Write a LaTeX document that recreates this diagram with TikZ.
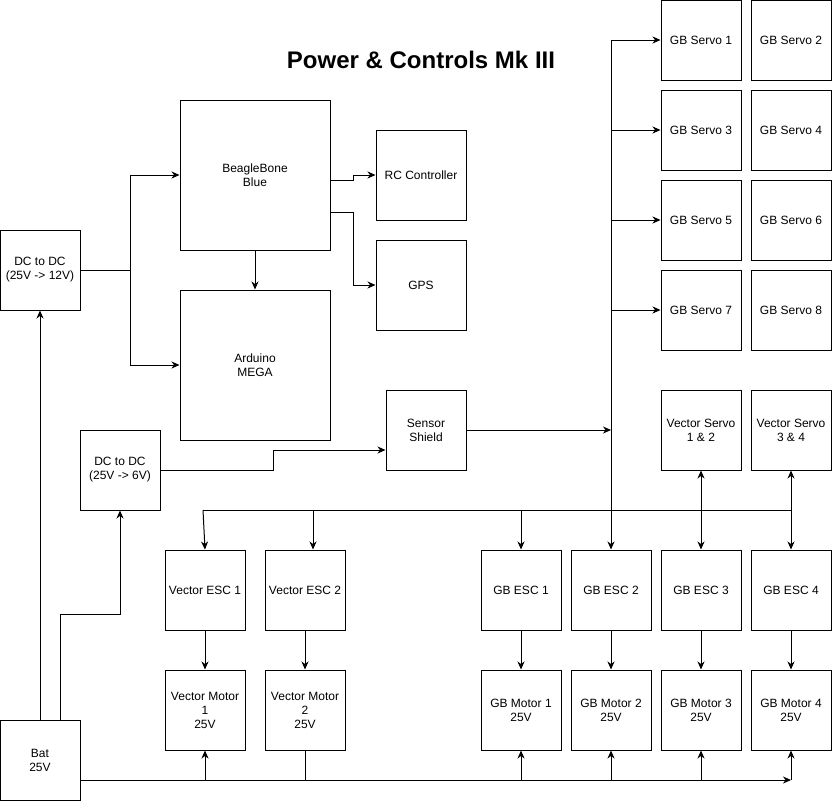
\documentclass[tikz,border=0pt]{standalone}
\usepackage{fontspec}
\setmainfont{Liberation Sans}
\usetikzlibrary{arrows.meta,calc}
\begin{document}
\begin{tikzpicture}[x=1pt,y=-1pt,line width=1pt,
  box/.style={draw,rectangle,inner sep=0pt,align=center,font=\fontsize{12}{14}\selectfont,minimum width=80pt,minimum height=80pt},
  bigbox/.style={box,minimum width=150pt,minimum height=150pt},
  midbox/.style={box,minimum width=90pt,minimum height=90pt},
  arr/.style={-{Stealth[length=8pt,width=7pt,inset=2.5pt]}},
  arrb/.style={{Stealth[length=8pt,width=7pt,inset=2.5pt]}-{Stealth[length=8pt,width=7pt,inset=2.5pt]}}]
\useasboundingbox (0,0) rectangle (832,801);
\node[font=\fontsize{24}{28}\selectfont\bfseries] (title) at (421,60) {Power \& Controls Mk III};
% boxes
\node[bigbox] (bb) at (255,175) {BeagleBone\\Blue};
\node[bigbox] (ard) at (255,365) {Arduino\\MEGA};
\node[midbox] (rc) at (421,175) {RC Controller};
\node[midbox] (gps) at (421,285) {GPS};
\node[box] (dc12) at (40,270) {DC to DC\\(25V -> 12V)};
\node[box] (dc6) at (120,470) {DC to DC\\(25V -> 6V)};
\node[box] (ss) at (426,430) {Sensor\\Shield};
\node[box] (s1) at (701,40) {GB Servo 1};
\node[box] (s2) at (791,40) {GB Servo 2};
\node[box] (s3) at (701,130) {GB Servo 3};
\node[box] (s4) at (791,130) {GB Servo 4};
\node[box] (s5) at (701,220) {GB Servo 5};
\node[box] (s6) at (791,220) {GB Servo 6};
\node[box] (s7) at (701,310) {GB Servo 7};
\node[box] (s8) at (791,310) {GB Servo 8};
\node[box] (vs12) at (701,430) {Vector Servo\\1 \& 2};
\node[box] (vs34) at (791,430) {Vector Servo\\3 \& 4};
\node[box] (vesc1) at (205,590) {Vector ESC 1};
\node[box] (vesc2) at (305,590) {Vector ESC 2};
\node[box] (gesc1) at (521,590) {GB ESC 1};
\node[box] (gesc2) at (611,590) {GB ESC 2};
\node[box] (gesc3) at (701,590) {GB ESC 3};
\node[box] (gesc4) at (791,590) {GB ESC 4};
\node[box] (vm1) at (205,710) {Vector Motor\\1\\25V};
\node[box] (vm2) at (305,710) {Vector Motor\\2\\25V};
\node[box] (gm1) at (521,710) {GB Motor 1\\25V};
\node[box] (gm2) at (611,710) {GB Motor 2\\25V};
\node[box] (gm3) at (701,710) {GB Motor 3\\25V};
\node[box] (gm4) at (791,710) {GB Motor 4\\25V};
\node[box] (bat) at (40,760) {Bat\\25V};
% coordinates
\coordinate (j1) at (130,270);
\coordinate (sv) at (611,430);
\coordinate (vtop) at (611,40);
\coordinate (vbot) at (611,510);
\coordinate (busL) at (203,510);
\coordinate (busR) at (791,510);
\coordinate (bend) at (791,780);
% connectors
\draw (dc12.east) -- (j1);
\draw[arr] (j1) |- (bb.west);
\draw[arr] (j1) |- (ard.west);
\draw[arr] (bb.south) -- (ard.north);
\draw[arr] ([yshift=-5pt]bb.east) -- ++(23,0) |- (rc.west);
\draw[arr] ([yshift=-37pt]bb.east) -- ++(23,0) |- (gps.west);
\draw[arr] (bat.north) -- (dc12.south);
\draw[arr] ([xshift=20pt]bat.north) -- ++(0,-105) -| (dc6.south);
\draw[arr] (dc6.east) -- ++(113,0) |- ([yshift=-20pt]ss.west);
\draw[arr] (ss.east) -- (sv);
\draw (vtop) -- (vbot);
\draw[arr] (vtop) -- (s1.west);
\draw[arr] (vtop |- s3.west) -- (s3.west);
\draw[arr] (vtop |- s5.west) -- (s5.west);
\draw[arr] (vtop |- s7.west) -- (s7.west);
\draw (busL) -- (busR);
\draw[arr] (busL) -- (vesc1.north);
\draw[arr] ([xshift=8pt]vesc2.north |- busL) -- ([xshift=8pt]vesc2.north);
\draw[arr] (gesc1.north |- busL) -- (gesc1.north);
\draw[arr] (vbot) -- (gesc2.north);
\draw[arrb] (vs12.south) -- (gesc3.north);
\draw[arrb] (vs34.south) -- (gesc4.north);
\draw[arr] (vesc1.south) -- (vm1.north);
\draw[arr] (vesc2.south) -- (vm2.north);
\draw[arr] (gesc1.south) -- (gm1.north);
\draw[arr] (gesc2.south) -- (gm2.north);
\draw[arr] (gesc3.south) -- (gm3.north);
\draw[arr] (gesc4.south) -- (gm4.north);
\draw[arr] ([yshift=-20pt]bat.east) -- (bend);
\draw[arr] (bend) -- (gm4.south);
\draw[arr] (vm1.south |- bend) -- (vm1.south);
\draw (vm2.south |- bend) -- (vm2.south);
\draw[arr] (gm1.south |- bend) -- (gm1.south);
\draw[arr] (gm2.south |- bend) -- (gm2.south);
\draw[arr] (gm3.south |- bend) -- (gm3.south);
\end{tikzpicture}
\end{document}
